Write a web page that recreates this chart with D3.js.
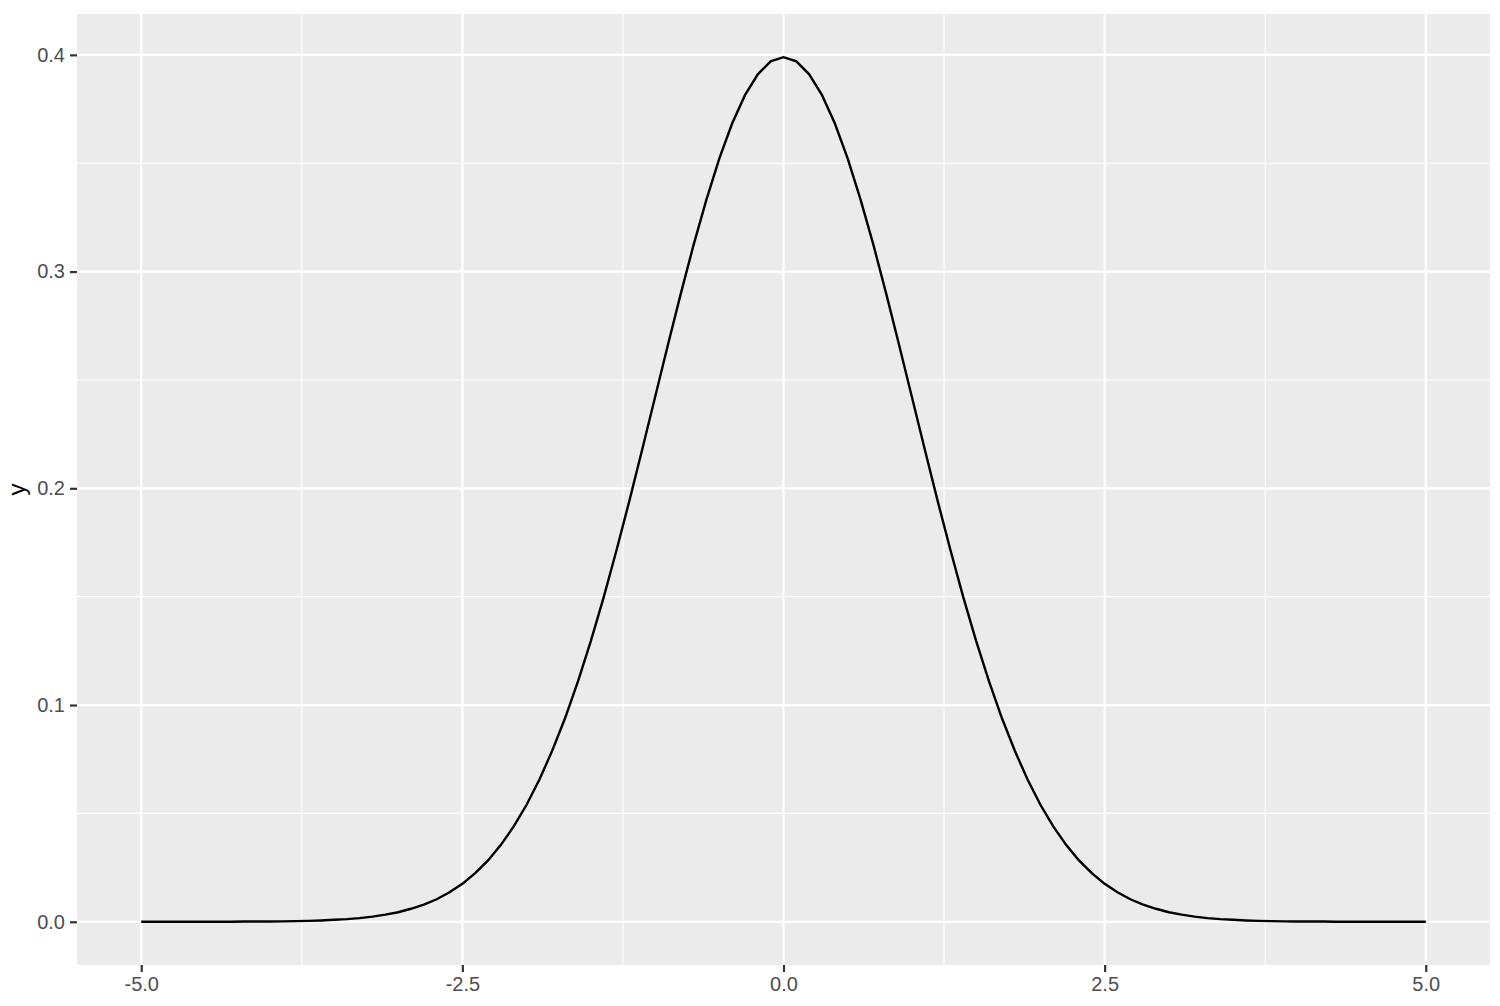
<!DOCTYPE html>
<meta charset='utf-8'>
<style>
	body { margin: 0; background: #fff; }
	#container { width: 1500px; height: 1006px; }
	text { font-family: 'Liberation Sans', Arial, Helvetica, sans-serif; }
</style>
<body>
	<div id='container'></div>
<script src='https://d3js.org/d3.v7.min.js'></script>
<script>
	// curve samples (101 points, -5 .. 5)
	const xs = [
		-5.0, -4.9, -4.8, -4.7, -4.6, -4.5, -4.4, -4.3, -4.2, -4.1,
		-4.0, -3.9, -3.8, -3.7, -3.6, -3.5, -3.4, -3.3, -3.2, -3.1,
		-3.0, -2.9, -2.8, -2.7, -2.6, -2.5, -2.4, -2.3, -2.2, -2.1,
		-2.0, -1.9, -1.8, -1.7, -1.6, -1.5, -1.4, -1.3, -1.2, -1.1,
		-1.0, -0.9, -0.8, -0.7, -0.6, -0.5, -0.4, -0.3, -0.2, -0.1,
		0.0, 0.1, 0.2, 0.3, 0.4, 0.5, 0.6, 0.7, 0.8, 0.9,
		1.0, 1.1, 1.2, 1.3, 1.4, 1.5, 1.6, 1.7, 1.8, 1.9,
		2.0, 2.1, 2.2, 2.3, 2.4, 2.5, 2.6, 2.7, 2.8, 2.9,
		3.0, 3.1, 3.2, 3.3, 3.4, 3.5, 3.6, 3.7, 3.8, 3.9,
		4.0, 4.1, 4.2, 4.3, 4.4, 4.5, 4.6, 4.7, 4.8, 4.9, 5.0
	];
	const ys = [
		0.0000, 0.0000, 0.0000, 0.0000, 0.0000, 0.0000, 0.0000, 0.0000, 0.0001, 0.0001,
		0.0001, 0.0002, 0.0003, 0.0004, 0.0006, 0.0009, 0.0012, 0.0017, 0.0024, 0.0033,
		0.0044, 0.0060, 0.0079, 0.0104, 0.0136, 0.0175, 0.0224, 0.0283, 0.0355, 0.0440,
		0.0540, 0.0656, 0.0790, 0.0940, 0.1109, 0.1295, 0.1497, 0.1714, 0.1942, 0.2179,
		0.2420, 0.2661, 0.2897, 0.3123, 0.3332, 0.3521, 0.3683, 0.3814, 0.3910, 0.3970,
		0.3989, 0.3970, 0.3910, 0.3814, 0.3683, 0.3521, 0.3332, 0.3123, 0.2897, 0.2661,
		0.2420, 0.2179, 0.1942, 0.1714, 0.1497, 0.1295, 0.1109, 0.0940, 0.0790, 0.0656,
		0.0540, 0.0440, 0.0355, 0.0283, 0.0224, 0.0175, 0.0136, 0.0104, 0.0079, 0.0060,
		0.0044, 0.0033, 0.0024, 0.0017, 0.0012, 0.0009, 0.0006, 0.0004, 0.0003, 0.0002,
		0.0001, 0.0001, 0.0001, 0.0000, 0.0000, 0.0000, 0.0000, 0.0000, 0.0000, 0.0000, 0.0000
	];
	const xTicks = [-5, -2.5, 0, 2.5, 5];
	const xMinor = [-3.75, -1.25, 1.25, 3.75];
	const yTicks = [0, 0.1, 0.2, 0.3, 0.4];
	const yMinor = [0.05, 0.15, 0.25, 0.35];

	const margin = { top: 14, left: 77, right: 10, bottom: 41 },
		width = 1500 - margin.left - margin.right,
		height = 1006 - margin.top - margin.bottom;

	const data = xs.map( ( x, i ) => ( { x: x, y: ys[i] } ) );

	const ymax = d3.max( ys ), yExp = ymax * 0.05;
	const xScale = d3.scaleLinear()
		.domain( [-5.5, 5.5] )
		.range( [0, width] );
	const yScale = d3.scaleLinear()
		.domain( [-yExp, ymax + yExp] )
		.range( [height, 0] );

	// ggplot prints a plain hyphen, not the unicode minus
	const fmt = d => d3.format( '.1f' )( d ).replace( '\u2212', '-' );

	const svg = d3.select( '#container' )
		.append( 'svg' )
		.attr( 'width', 1500 )
		.attr( 'height', 1006 )
		.append( 'g' )
			.attr( 'transform', `translate( ${margin.left}, ${margin.top} )` );

	svg.append( 'rect' )
		.attr( 'width', width )
		.attr( 'height', height )
		.attr( 'fill', '#EBEBEB' );

	// minor grid
	svg.selectAll( '.xminor' ).data( xMinor ).enter().append( 'line' )
		.attr( 'x1', d => xScale( d ) ).attr( 'x2', d => xScale( d ) )
		.attr( 'y1', 0 ).attr( 'y2', height )
		.attr( 'stroke', '#fff' ).attr( 'stroke-width', 1.1 );
	svg.selectAll( '.yminor' ).data( yMinor ).enter().append( 'line' )
		.attr( 'y1', d => yScale( d ) ).attr( 'y2', d => yScale( d ) )
		.attr( 'x1', 0 ).attr( 'x2', width )
		.attr( 'stroke', '#fff' ).attr( 'stroke-width', 1.1 );

	// major grid
	svg.selectAll( '.xmajor' ).data( xTicks ).enter().append( 'line' )
		.attr( 'x1', d => xScale( d ) ).attr( 'x2', d => xScale( d ) )
		.attr( 'y1', 0 ).attr( 'y2', height )
		.attr( 'stroke', '#fff' ).attr( 'stroke-width', 2.2 );
	svg.selectAll( '.ymajor' ).data( yTicks ).enter().append( 'line' )
		.attr( 'y1', d => yScale( d ) ).attr( 'y2', d => yScale( d ) )
		.attr( 'x1', 0 ).attr( 'x2', width )
		.attr( 'stroke', '#fff' ).attr( 'stroke-width', 2.2 );

	const line = d3.line()
		.x( d => xScale( d.x ) )
		.y( d => yScale( d.y ) );

	svg.append( 'path' )
		.datum( data )
		.attr( 'd', line )
		.attr( 'fill', 'none' )
		.attr( 'stroke', '#000' )
		.attr( 'stroke-width', 2.4 );

	const xAxis = d3.axisBottom( xScale )
		.tickValues( xTicks )
		.tickFormat( fmt )
		.tickSize( 7 ).tickPadding( 5 );
	const yAxis = d3.axisLeft( yScale )
		.tickValues( yTicks )
		.tickFormat( fmt )
		.tickSize( 7 ).tickPadding( 5 );

	const styleAxis = g => {
		g.select( '.domain' ).remove();
		g.selectAll( '.tick line' ).attr( 'stroke', '#333' ).attr( 'stroke-width', 2.2 );
		g.selectAll( '.tick text' )
			.attr( 'fill', '#4D4D4D' )
			.style( 'font-size', '20px' )
			.style( 'font-family', "'Liberation Sans', Arial, sans-serif" );
	};

	svg.append( 'g' )
		.attr( 'transform', `translate( 0, ${height} )` )
		.call( xAxis )
		.call( styleAxis );

	svg.append( 'g' )
		.call( yAxis )
		.call( styleAxis );

	svg.append( 'text' )
		.attr( 'transform', `translate( ${-margin.left + 25}, ${height / 2} ) rotate( -90 )` )
		.attr( 'text-anchor', 'middle' )
		.attr( 'fill', '#000' )
		.style( 'font-size', '24px' )
		.text( 'y' );
</script>
</body>
